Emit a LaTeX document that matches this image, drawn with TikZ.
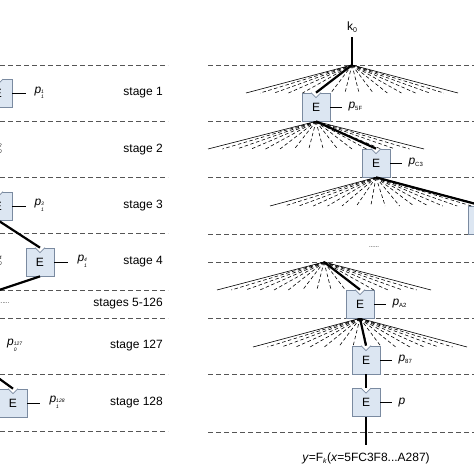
\documentclass[tikz,border=0pt]{standalone}
\usepackage{fontspec}
\setmainfont{Liberation Sans}
\usetikzlibrary{calc}
\definecolor{boxfill}{HTML}{DCE6F2}
\definecolor{boxline}{HTML}{7A8AA0}
\definecolor{stagegray}{HTML}{555555}
\newcommand\pl[2]{\textit{p}\raisebox{-3.2pt}{\fontsize{5}{5.5}\selectfont\begin{tabular}{@{}l@{}}\textit{#2}\\\textit{#1}\end{tabular}}}
\newcommand\pr[1]{\textit{p}\raisebox{-2pt}{\fontsize{6}{6}\selectfont #1}}
\tikzset{
  ebox/.style={draw=boxline, fill=boxfill, line width=0.7pt, minimum width=28pt, minimum height=28pt, inner sep=0pt, font=\fontsize{12}{12}\selectfont},
  stageline/.style={draw=stagegray, line width=0.8pt, dash pattern=on 5pt off 3pt},
  fansolid/.style={line width=0.6pt},
  fandash/.style={line width=0.6pt, dash pattern=on 3.5pt off 2.5pt},
  thickline/.style={line width=2.2pt},
  plink/.style={line width=0.6pt},
  lbl/.style={anchor=west, inner sep=0pt, font=\fontsize{12}{12}\selectfont},
  stagelbl/.style={anchor=east, inner sep=0pt, font=\fontsize{12}{12}\selectfont},
}
\newcommand\notch[1]{\draw[boxline, fill=white, line width=0.7pt] ($(#1.north)+(-5,0)$) -- ($(#1.north)+(0,5)$) -- ($(#1.north)+(5,0)$);}
\newcommand\fan[4]{% apex, y, xleft, xright
  \foreach \i in {0,...,15}{
    \pgfmathsetmacro\xx{#3+\i*(#4-#3)/15}
    \ifnum\i=0 \draw[fansolid] (#1) -- (\xx,#2);
    \else\ifnum\i=15 \draw[fansolid] (#1) -- (\xx,#2);
    \else \draw[fandash] (#1) -- (\xx,#2);
    \fi\fi
  }}
% box, label text, line length, gap
\newcommand\plabel[4]{%
  \draw[plink] (#1.east) -- ($(#1.east)+(#3,0)$);
  \node[lbl] (#1p) at ($(#1.east)+(#3+#4,0)$) {#2};}
\begin{document}
\begin{tikzpicture}[x=1pt,y=-1pt]
\useasboundingbox (0,0) rectangle (474,474);
% ---------- left panel ----------
\foreach \yy in {65,121,177,233,290,318,374,431}{
  \draw[stageline] (0,\yy) -- (168,\yy);
}
\node[stagelbl] (s1) at (163,93) {stage 1};
\node[stagelbl] (s2) at (163,150) {stage 2};
\node[stagelbl] (s3) at (163,206) {stage 3};
\node[stagelbl] (s4) at (163,262) {stage 4};
\node[stagelbl] (s5) at (163,304) {stages 5-126};
\node[stagelbl] (s127) at (163,346) {stage 127};
\node[stagelbl] (s128) at (163,403) {stage 128};

\node[ebox] (bl1) at (-2,93.5) {E}; \notch{bl1}
\node[ebox] (bl3) at (-2,206) {E}; \notch{bl3}
\node[ebox] (bl4) at (40,262) {E}; \notch{bl4}
\node[ebox] (bl8) at (13,403) {E}; \notch{bl8}

\plabel{bl1}{\pl{1}{1}}{14}{8}
\plabel{bl3}{\pl{1}{3}}{14}{8}
\plabel{bl4}{\pl{1}{4}}{14}{9}
\plabel{bl8}{\pl{1}{128}}{13}{9}
\node[lbl] (pl127) at (7,346) {\pl{0}{127}};
\node[lbl] (pl2) at (-8,148) {\pl{0}{2}};
\node[lbl] (pl4b) at (-8,260) {\pl{0}{4}};
\node[lbl, font=\fontsize{6}{6}\selectfont] (dl) at (-1,303) {......};

\coordinate (lout) at (-10,293);
\coordinate (lin) at (-10,372);
\draw[thickline] (bl3.south) -- (bl4.north);
\draw[thickline] (bl4.south) -- (lout);
\draw[thickline] (lin) -- (bl8.north);

% ---------- right panel ----------
\foreach \yy in {65,121,177,234,262,318,374,432}{
  \draw[stageline] (208,\yy) -- (474,\yy);
}
\node[inner sep=0pt, font=\fontsize{12}{12}\selectfont] (k) at (352,27) {k\raisebox{-2pt}{\fontsize{7}{7}\selectfont 0}};
\coordinate (a1) at (352,65);
\coordinate (a4) at (324,262);

\node[ebox] (b1) at (316,107) {E};
\node[ebox] (b2) at (376,163) {E};
\node[ebox] (b3) at (482,220) {E};
\node[ebox] (b4) at (360,304) {E};
\node[ebox] (b5) at (366,360) {E};
\node[ebox] (b6) at (366,402.5) {E};

\fan{a1}{93}{246}{458}
\fan{b1.south}{149}{208}{424}
\fan{b2.south}{206}{270}{486}
\fan{a4}{290}{217}{431}
\fan{b4.south}{347}{253}{467}

\foreach \b in {b1,b2,b3,b4,b5,b6}{ \notch{\b} }

\plabel{b1}{\pr{5F}}{12}{6}
\plabel{b2}{\pr{C3}}{12}{6}
\plabel{b4}{\pr{A2}}{12}{6}
\plabel{b5}{\pr{87}}{12}{6}
\plabel{b6}{\textit{p}}{12}{6}

\node[font=\fontsize{6}{6}\selectfont, inner sep=0pt] (dr) at (374,247) {......};

\coordinate (yout) at (366,445);
\node[inner sep=0pt, font=\fontsize{12}{12}\selectfont] (ylab) at (366,458) {\textit{y}=F\raisebox{-2pt}{\fontsize{7}{7}\selectfont\textit{k}}(\textit{x}=5FC3F8...A287)};

\draw[thickline] (k.south |- 0,37) -- (a1);
\draw[thickline] (a1) -- (b1.north);
\draw[thickline] (b1.south) -- (b2.north);
\draw[thickline] (b2.south) -- (b3.north);
\draw[thickline] (a4) -- (b4.north);
\draw[thickline] (b4.south) -- (b5.north);
\draw[thickline] (b5.south) -- (b6.north);
\draw[thickline] (b6.south) -- (yout);
\end{tikzpicture}
\end{document}
